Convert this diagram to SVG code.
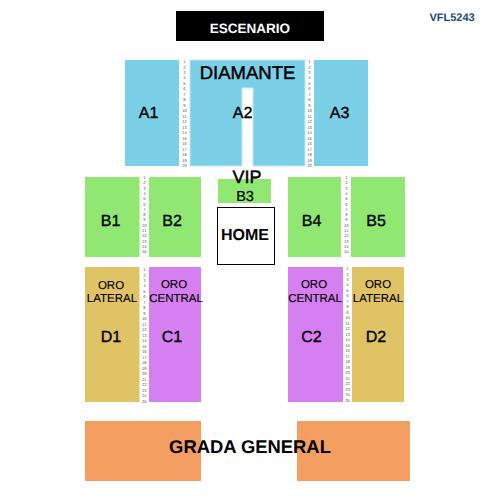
<svg xmlns="http://www.w3.org/2000/svg" width="500" height="500" viewBox="0 0 500 500">
<style>
text{font-family:"Liberation Sans",Arial,sans-serif;text-anchor:middle;fill:#000;text-rendering:geometricPrecision}
.a{fill:#7bcfe6}.b{fill:#90e873}.c{fill:#d67ff0}.d{fill:#e0c365}.g{fill:#f59e62}
.l{font-size:16px;stroke:#000;stroke-width:.35px}.o{font-size:11.500px;stroke:#000;stroke-width:.12px}
.h{stroke:#000;stroke-width:.45px}
.n{font-size:4.200px;fill:#555}
</style>
<rect width="500" height="500" fill="#fff"/>
<g id="escenario"><rect x="176" y="11" width="148" height="30" fill="#000"/><text x="250" y="33" font-size="13.500" font-weight="bold" style="fill:#fff">ESCENARIO</text></g>
<text x="452" y="21" font-size="11" font-weight="bold" style="fill:#1b4a7a">VFL5243</text>
<g id="A1"><rect class="a" x="125" y="60" width="54" height="106"/><text class="l" x="148.500" y="118">A1</text></g>
<g id="A2"><path class="a" d="M190 60H305V166H253V88H242V166H190Z" stroke="#c4e8f2" stroke-width="1"/><text class="h" x="247.500" y="79" font-size="18.500">DIAMANTE</text><text class="l" x="242.500" y="118">A2</text></g>
<g id="A3"><rect class="a" x="314" y="60" width="54" height="106"/><text class="l" x="339.500" y="118">A3</text></g>
<g id="VIP"><rect class="b" x="218" y="179" width="53" height="24"/><text class="h" x="247" y="183" font-size="18">VIP</text><text x="245" y="201" font-size="14.500" style="stroke:#000;stroke-width:.2px">B3</text></g>
<g id="HOME"><rect x="217.500" y="207.500" width="57" height="57" fill="#fff" stroke="#000" stroke-width="1"/><text x="245" y="240" font-size="16" font-weight="bold">HOME</text></g>
<g id="B1"><rect class="b" x="85" y="177" width="54.500" height="80"/><text class="l" x="110.500" y="226">B1</text></g>
<g id="B2"><rect class="b" x="149" y="177" width="52" height="80"/><text class="l" x="172" y="226">B2</text></g>
<g id="B4"><rect class="b" x="288" y="177" width="53" height="80"/><text class="l" x="311.500" y="226">B4</text></g>
<g id="B5"><rect class="b" x="351" y="177" width="54" height="80"/><text class="l" x="376" y="226">B5</text></g>
<g id="D1"><rect class="d" x="85" y="267" width="54.500" height="135"/><text class="o" x="111" y="289">ORO</text><text class="o" x="112" y="302">LATERAL</text><text class="l" x="111" y="342">D1</text></g>
<g id="C1"><rect class="c" x="149" y="267" width="52" height="135"/><text class="o" x="174" y="288">ORO</text><text class="o" x="176" y="302">CENTRAL</text><text class="l" x="172" y="342">C1</text></g>
<g id="C2"><rect class="c" x="288" y="267" width="55" height="135"/><text class="o" x="314" y="288">ORO</text><text class="o" x="315" y="302">CENTRAL</text><text class="l" x="311.500" y="342">C2</text></g>
<g id="D2"><rect class="d" x="352" y="267" width="52" height="135"/><text class="o" x="378" y="288">ORO</text><text class="o" x="378" y="302">LATERAL</text><text class="l" x="376" y="342">D2</text></g>
<g id="grada"><rect class="g" x="85" y="421" width="116" height="60"/><rect class="g" x="297" y="421" width="113" height="60"/><text x="250" y="453" font-size="18.400" font-weight="bold">GRADA GENERAL</text></g>
<g id="rows">
<text class="n" x="184.500" y="63">1</text><text class="n" x="184.500" y="68.500">2</text><text class="n" x="184.500" y="74">3</text><text class="n" x="184.500" y="79.400">4</text><text class="n" x="184.500" y="84.900">5</text><text class="n" x="184.500" y="90.400">6</text><text class="n" x="184.500" y="95.900">7</text><text class="n" x="184.500" y="101.400">8</text><text class="n" x="184.500" y="106.800">9</text><text class="n" x="184.500" y="112.300">10</text><text class="n" x="184.500" y="117.800">11</text><text class="n" x="184.500" y="123.300">12</text><text class="n" x="184.500" y="128.800">13</text><text class="n" x="184.500" y="134.200">14</text><text class="n" x="184.500" y="139.700">15</text><text class="n" x="184.500" y="145.200">16</text><text class="n" x="184.500" y="150.700">17</text><text class="n" x="184.500" y="156.200">18</text><text class="n" x="184.500" y="161.600">19</text><text class="n" x="184.500" y="167.100">20</text>
<text class="n" x="309.500" y="63">1</text><text class="n" x="309.500" y="68.500">2</text><text class="n" x="309.500" y="74">3</text><text class="n" x="309.500" y="79.400">4</text><text class="n" x="309.500" y="84.900">5</text><text class="n" x="309.500" y="90.400">6</text><text class="n" x="309.500" y="95.900">7</text><text class="n" x="309.500" y="101.400">8</text><text class="n" x="309.500" y="106.800">9</text><text class="n" x="309.500" y="112.300">10</text><text class="n" x="309.500" y="117.800">11</text><text class="n" x="309.500" y="123.300">12</text><text class="n" x="309.500" y="128.800">13</text><text class="n" x="309.500" y="134.200">14</text><text class="n" x="309.500" y="139.700">15</text><text class="n" x="309.500" y="145.200">16</text><text class="n" x="309.500" y="150.700">17</text><text class="n" x="309.500" y="156.200">18</text><text class="n" x="309.500" y="161.600">19</text><text class="n" x="309.500" y="167.100">20</text>
<text class="n" x="144.300" y="179">1</text><text class="n" x="144.300" y="184.300">2</text><text class="n" x="144.300" y="189.600">3</text><text class="n" x="144.300" y="194.900">4</text><text class="n" x="144.300" y="200.200">5</text><text class="n" x="144.300" y="205.500">6</text><text class="n" x="144.300" y="210.800">7</text><text class="n" x="144.300" y="216.100">8</text><text class="n" x="144.300" y="221.400">9</text><text class="n" x="144.300" y="226.700">10</text><text class="n" x="144.300" y="232">11</text><text class="n" x="144.300" y="237.300">12</text><text class="n" x="144.300" y="242.600">13</text><text class="n" x="144.300" y="247.900">14</text><text class="n" x="144.300" y="253.200">15</text>
<text class="n" x="346.300" y="179">1</text><text class="n" x="346.300" y="184.300">2</text><text class="n" x="346.300" y="189.600">3</text><text class="n" x="346.300" y="194.900">4</text><text class="n" x="346.300" y="200.200">5</text><text class="n" x="346.300" y="205.500">6</text><text class="n" x="346.300" y="210.800">7</text><text class="n" x="346.300" y="216.100">8</text><text class="n" x="346.300" y="221.400">9</text><text class="n" x="346.300" y="226.700">10</text><text class="n" x="346.300" y="232">11</text><text class="n" x="346.300" y="237.300">12</text><text class="n" x="346.300" y="242.600">13</text><text class="n" x="346.300" y="247.900">14</text><text class="n" x="346.300" y="253.200">15</text>
<text class="n" x="144.300" y="271">1</text><text class="n" x="144.300" y="276.500">2</text><text class="n" x="144.300" y="282">3</text><text class="n" x="144.300" y="287.400">4</text><text class="n" x="144.300" y="292.900">5</text><text class="n" x="144.300" y="298.400">6</text><text class="n" x="144.300" y="303.900">7</text><text class="n" x="144.300" y="309.400">8</text><text class="n" x="144.300" y="314.800">9</text><text class="n" x="144.300" y="320.300">10</text><text class="n" x="144.300" y="325.800">11</text><text class="n" x="144.300" y="331.300">12</text><text class="n" x="144.300" y="336.800">13</text><text class="n" x="144.300" y="342.200">14</text><text class="n" x="144.300" y="347.700">15</text><text class="n" x="144.300" y="353.200">16</text><text class="n" x="144.300" y="358.700">17</text><text class="n" x="144.300" y="364.200">18</text><text class="n" x="144.300" y="369.600">19</text><text class="n" x="144.300" y="375.100">20</text><text class="n" x="144.300" y="380.600">21</text><text class="n" x="144.300" y="386.100">22</text><text class="n" x="144.300" y="391.600">23</text><text class="n" x="144.300" y="397">24</text><text class="n" x="144.300" y="402.500">25</text>
<text class="n" x="347.500" y="270">1</text><text class="n" x="347.500" y="275.500">2</text><text class="n" x="347.500" y="281">3</text><text class="n" x="347.500" y="286.400">4</text><text class="n" x="347.500" y="291.900">5</text><text class="n" x="347.500" y="297.400">6</text><text class="n" x="347.500" y="302.900">7</text><text class="n" x="347.500" y="308.400">8</text><text class="n" x="347.500" y="313.800">9</text><text class="n" x="347.500" y="319.300">10</text><text class="n" x="347.500" y="324.800">11</text><text class="n" x="347.500" y="330.300">12</text><text class="n" x="347.500" y="335.800">13</text><text class="n" x="347.500" y="341.200">14</text><text class="n" x="347.500" y="346.700">15</text><text class="n" x="347.500" y="352.200">16</text><text class="n" x="347.500" y="357.700">17</text><text class="n" x="347.500" y="363.200">18</text><text class="n" x="347.500" y="368.600">19</text><text class="n" x="347.500" y="374.100">20</text><text class="n" x="347.500" y="379.600">21</text><text class="n" x="347.500" y="385.100">22</text><text class="n" x="347.500" y="390.600">23</text><text class="n" x="347.500" y="396">24</text><text class="n" x="347.500" y="401.500">25</text>
</g>
</svg>
